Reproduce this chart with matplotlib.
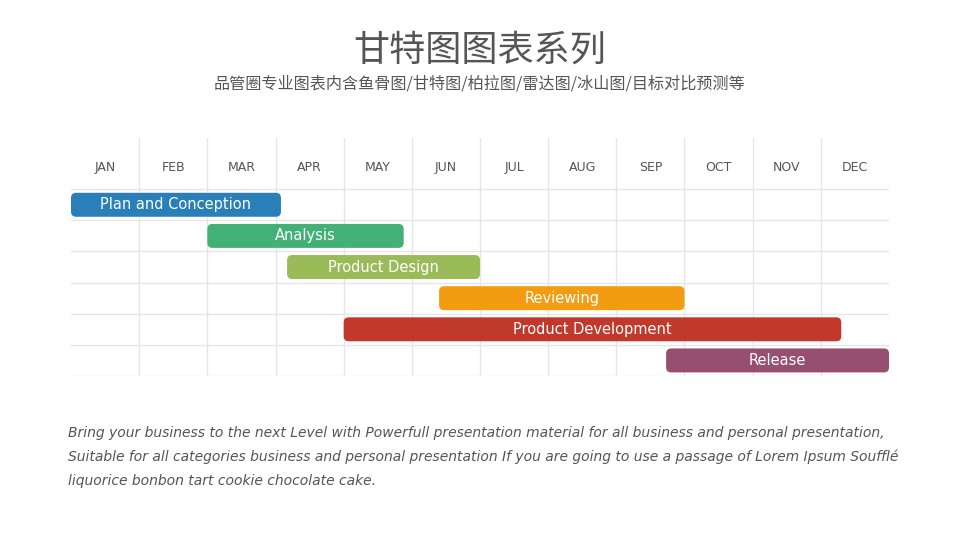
import matplotlib
matplotlib.use('Agg')
import matplotlib.pyplot as plt
from matplotlib.patches import FancyBboxPatch

### DATA ###
months = ['JAN', 'FEB', 'MAR', 'APR', 'MAY', 'JUN', 'JUL', 'AUG', 'SEP', 'OCT', 'NOV', 'DEC']
tasks = ['Plan and Conception', 'Analysis', 'Product Design', 'Reviewing',
         'Product Development', 'Release']
task_start = [0.0, 2.0, 3.17, 5.4, 4.0, 8.73]   # in months from JAN
task_end = [3.08, 4.88, 6.0, 9.0, 11.3, 12.0]
task_colors = ['#2a7fb8', '#43b176', '#9bbb59', '#f39c12', '#c0392b', '#964f71']

title = '甘特图图表系列'
subtitle = '品管圈专业图表内含鱼骨图/甘特图/柏拉图/雷达图/冰山图/目标对比预测等'
body_lines = [
    'Bring your business to the next Level with Powerfull presentation material for all business and personal presentation,',
    'Suitable for all categories business and personal presentation If you are going to use a passage of Lorem Ipsum Soufflé',
    'liquorice bonbon tart cookie chocolate cake.',
]

plt.rcParams['font.family'] = ['Noto Sans CJK SC', 'DejaVu Sans']

### FIGURE ###
fig = plt.figure(figsize=(9.6, 5.4), dpi=100)
fig.patch.set_facecolor('white')

fig.text(0.5, 1 - 51 / 540, title, ha='center', va='center', fontsize=26, color='#555555')
fig.text(0.5, 1 - 84 / 540, subtitle, ha='center', va='center', fontsize=11.6, color='#555555')

# axes spanning the grid area (x 71..889 px, y 138..376 px)
ax = fig.add_axes([71 / 960, 1 - 376 / 540, (889 - 71) / 960, (376 - 138) / 540])
header = 51 / 31
ax.set_xlim(0, 12)
ax.set_ylim(len(tasks), -header)
ax.axis('off')

grid_color = '#e6e6e6'
for m in range(1, 12):
    ax.plot([m, m], [-header, len(tasks)], color=grid_color, lw=1, zorder=0)
for r in range(len(tasks) + 1):
    ax.plot([0, 12], [r, r], color=grid_color, lw=1, zorder=0)

for i, name in enumerate(months):
    ax.text(i + 0.5, -0.71, name, ha='center', va='center', fontsize=9,
            color='#555555', family='DejaVu Sans')

bar_h = 0.77
aspect = (818 / 12) / 31
for i, name in enumerate(tasks):
    x0, x1 = task_start[i], task_end[i]
    y0 = i + 0.5 - bar_h / 2
    box = FancyBboxPatch((x0, y0), x1 - x0, bar_h,
                         boxstyle='round,pad=0,rounding_size=0.075',
                         mutation_aspect=aspect,
                         facecolor=task_colors[i], edgecolor='none', zorder=2)
    ax.add_patch(box)
    ax.text((x0 + x1) / 2, i + 0.5, name, ha='center', va='center',
            fontsize=10.5, color='white', family='DejaVu Sans', zorder=3)

for k, line in enumerate(body_lines):
    fig.text(68 / 960, 1 - (433 + 24 * k) / 540, line, ha='left', va='center',
             fontsize=10, color='#555555', style='italic',
             family=['Liberation Sans Narrow', 'DejaVu Sans'])

fig.savefig('out.png', dpi=100, facecolor='white')
